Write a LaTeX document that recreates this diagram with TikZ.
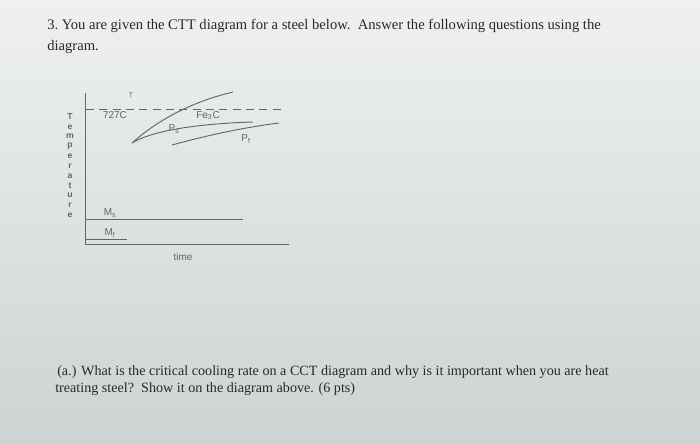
\documentclass[tikz,border=0pt]{standalone}
\usepackage{fontspec}
\setmainfont{Liberation Serif}
\setsansfont{Liberation Sans}
\usetikzlibrary{positioning}

\definecolor{paper}{RGB}{238,241,238}
\definecolor{paperlow}{RGB}{206,211,209}
\definecolor{ink}{RGB}{40,40,48}
\definecolor{plot}{RGB}{100,100,106}

\tikzset{
  qtext/.style={anchor=base west, inner sep=0pt, text=ink, font=\fontsize{10.95}{13}\selectfont},
  lbl/.style={inner sep=0pt, text=plot, font=\sffamily\fontsize{7.5}{8}\selectfont},
  curve/.style={draw=plot, line width=0.7pt},
}

\begin{document}
\begin{tikzpicture}[x=0.75pt,y=-0.75pt]
\shade[top color=paper, bottom color=paperlow] (0,0) rectangle (700,443);
\useasboundingbox (0,0) rectangle (700,443);

% question
\node[qtext] (q1) at (47,29) {3.\ You are given the CTT diagram for a steel below.\ \ Answer the following questions using the};
\node[qtext] (q2) at (47,50) {diagram.};

% axes
\coordinate (ytop) at (85,93);
\coordinate (orig) at (85,244);
\coordinate (xend) at (289,244);
\draw[curve] (ytop) -- (orig) -- (xend);

% 727C line
\coordinate (eutl) at (86,109);
\coordinate (eutr) at (283,109);
\draw[curve, dash pattern=on 6pt off 4pt] (eutl) -- (eutr);

% transformation curves
\coordinate (nose) at (132,143);
\coordinate (fe3c) at (233,92);
\coordinate (pse) at (253,122);
\coordinate (pfs) at (172,145);
\coordinate (pfe) at (279,123);
\draw[curve] (nose) .. controls (160,118) and (195,101) .. (fe3c);
\draw[curve] (nose) .. controls (150,132) and (190,124) .. (pse);
\draw[curve] (pfs) .. controls (205,136) and (240,128) .. (pfe);

% martensite lines
\coordinate (msl) at (85,219);
\coordinate (msr) at (243,219);
\coordinate (mfl) at (85,239);
\coordinate (mfr) at (127,239);
\draw[curve] (msl) -- (msr);
\draw[curve] (mfl) -- (mfr);

% labels
\path
(131,95)  node[lbl, font=\sffamily\fontsize{5}{6}\selectfont] (tmark) {T}
(115,115.5) node[lbl] (teut) {727C}
(208,115.5) node[lbl] (lfe) {Fe\textsubscript{3}C}
(174,129) node[lbl] (lps) {P\textsubscript{s}}
(246,139) node[lbl] (lpf) {P\textsubscript{f}}
(110,213) node[lbl] (lms) {M\textsubscript{s}}
(110,233) node[lbl] (lmf) {M\textsubscript{f}}
(183,257) node[lbl] (ltime) {time}
;
\foreach \c [count=\i] in {T,e,m,p,e,r,a,t,u,r,e}
  \node[lbl, font=\sffamily\bfseries\fontsize{6.5}{7}\selectfont] (ty\i) at (70,{117+(\i-1)*9.8}) {\c};

% part (a)
\node[qtext, font=\fontsize{10.6}{13}\selectfont] (a1) at (57,375) {(a.) What is the critical cooling rate on a CCT diagram and why is it important when you are heat};
\node[qtext, font=\fontsize{10.6}{13}\selectfont] (a2) at (55,392) {treating steel?\ \ Show it on the diagram above. (6 pts)};
\end{tikzpicture}
\end{document}
